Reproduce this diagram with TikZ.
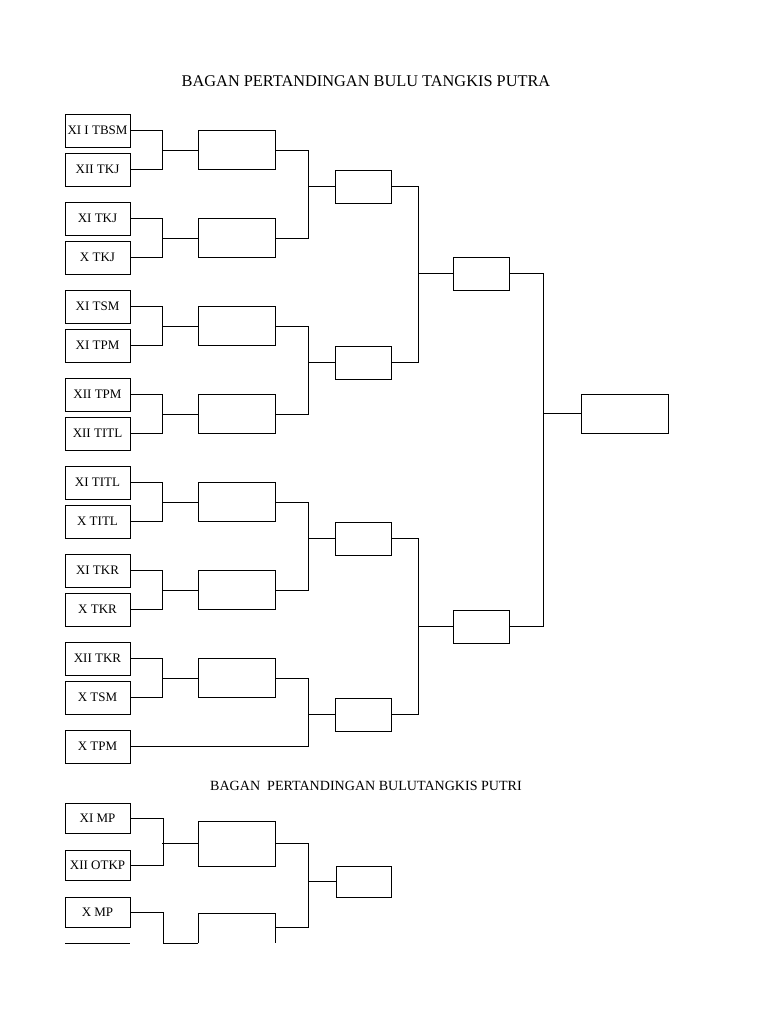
\documentclass[tikz,border=0pt]{standalone}
\usepackage{fontspec}
\setmainfont{Liberation Serif}
\usetikzlibrary{positioning, calc}

\begin{document}
\begin{tikzpicture}[x=0.02cm, y=-0.02cm, line width=0.5pt,
  team/.style={draw, minimum width=1.3cm, minimum height=0.66cm, inner sep=0pt, font=\fontsize{7.4}{8}\selectfont},
  slot/.style={draw, minimum width=1.54cm, minimum height=0.78cm, inner sep=0pt},
  smallslot/.style={draw, minimum width=1.12cm, minimum height=0.66cm, inner sep=0pt},
  heading/.style={font=\fontsize{9.3}{10}\selectfont}]
\useasboundingbox[fill=white] (0,0) rectangle (768,1024);

\node[heading] (putra) at (366,81) {BAGAN PERTANDINGAN BULU TANGKIS PUTRA};

% first round
\foreach \lbl [count=\i from 0, evaluate=\i as \y using {130.5+88*int(\i/2)+39*mod(\i,2)}] in
  {XI I TBSM, XII TKJ, XI TKJ, X TKJ, XI TSM, XI TPM, XII TPM, XII TITL,
   XI TITL, X TITL, XI TKR, X TKR, XII TKR, X TSM, X TPM}
  \node[team] (t\i) at (97.5,\y) {\lbl};

% second round
\foreach \k [evaluate=\k as \a using int(2*\k), evaluate=\k as \b using int(2*\k+1)] in {0,...,6} {
  \node[slot] (r\k) at (236.5,150+88*\k) {};
  \draw (t\a.east) -- ++(32,0) |- (t\b.east);
  \draw (r\k.west) -- ++(-36,0);
}

% third round
\foreach \k in {0,...,3} {
  \node[smallslot] (q\k) at (363,186.5+176*\k) {};
  \draw (q\k.west) -- ++(-27,0);
}
\foreach \k [evaluate=\k as \a using int(2*\k), evaluate=\k as \b using int(2*\k+1)] in {0,...,2}
  \draw (r\a.east) -- ++(33,0) |- (r\b.east);
\draw (r6.east) -- ++(33,0) |- (t14.east);

% semi final
\node[smallslot] (s0) at (481.5,273.5) {};
\node[smallslot] (s1) at (481.5,626.5) {};
\draw (q0.east) -- ++(27,0) |- (q1.east);
\draw (q2.east) -- ++(27,0) |- (q3.east);
\draw (s0.west) -- ++(-35,0);
\draw (s1.west) -- ++(-35,0);

% final
\node[draw, minimum width=1.74cm, minimum height=0.78cm] (final) at (624.5,413.5) {};
\draw (s0.east) -- ++(33,0) |- (s1.east);
\draw (final.west) -- ++(-38,0);

% putri
\node[font=\fontsize{8}{10}\selectfont] (putri) at (366,786) {BAGAN\ \ PERTANDINGAN BULUTANGKIS PUTRI};
\node[team, minimum height=0.6cm] (p0) at (97.5,818) {XI MP};
\node[team, minimum height=0.6cm] (p1) at (97.5,865.5) {XII OTKP};
\node[team, minimum height=0.6cm] (p2) at (97.5,912) {X MP};
\node[slot, minimum height=0.9cm] (pr0) at (236.5,843.5) {};
\node[smallslot, minimum width=1.1cm, minimum height=0.62cm] (pq0) at (363.5,881.5) {};
\coordinate (pr1w) at (198,943);
\coordinate (pr1e) at (275,927);
\coordinate (p3a) at (65,943);
\coordinate (p3b) at (130,943);
\draw (198,943) -- (198,913) -- (275,913) -- (275,943);
\draw (p3a) -- (p3b);
\draw (p0.east) -- ++(33,0) |- (p1.east);
\draw (pr0.west) -- ++(-36,0);
\draw (pr0.east) -- ++(33,0) |- (pr1e);
\draw (pq0.west) -- ++(-28,0);
\draw (p2.east) -- ++(33,0) |- (pr1w);
\end{tikzpicture}
\end{document}
